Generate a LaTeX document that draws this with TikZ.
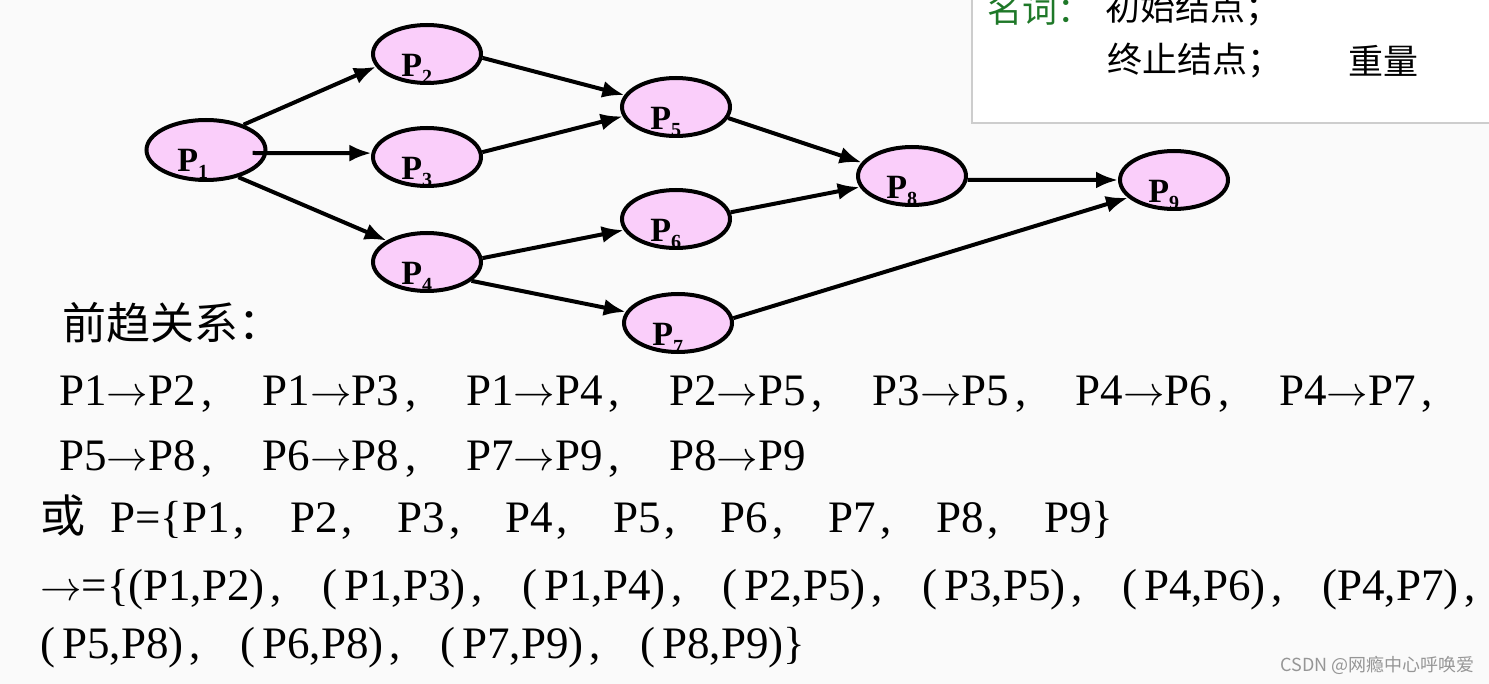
\documentclass[tikz,border=0pt]{standalone}
\usepackage{fontspec}
\setmainfont{Liberation Serif}
\newfontfamily\cjk{Noto Sans CJK SC}
\usetikzlibrary{arrows.meta,calc,shapes.geometric}
\definecolor{bg}{RGB}{250,250,250}
\definecolor{nodefill}{RGB}{250,206,250}
\definecolor{boxline}{RGB}{205,205,205}
\definecolor{termgreen}{RGB}{30,120,40}
\definecolor{wm}{RGB}{150,150,150}
\newcommand{\ar}{\ensuremath{\rightarrow}}
\begin{document}
\begin{tikzpicture}[x=0.5pt,y=-0.5pt,
  proc/.style={ellipse,draw=black,line width=2pt,fill=nodefill,minimum width=54pt,minimum height=29pt,inner sep=0pt},
  plabel/.style={font=\fontsize{17}{17}\selectfont\bfseries,inner sep=0pt,anchor=base west},
  edge/.style={line width=2pt,-{Latex[length=11pt,width=8.5pt]}},
  txt/.style={font=\fontsize{22.5}{22.5}\selectfont,inner sep=0pt,anchor=base west,text=black},
  cjktxt/.style={font=\cjk\fontsize{22}{22}\selectfont,inner sep=0pt,anchor=base west},
  boxtxt/.style={font=\cjk\fontsize{17.5}{17.5}\selectfont,inner sep=0pt,anchor=west},
  wmark/.style={font=\cjk\fontsize{9}{9}\selectfont,inner sep=0pt,anchor=east,text=wm}]
\fill[bg] (0,0) rectangle (1489,684);
\useasboundingbox (0,0) rectangle (1489,684);

% top-right box
\draw[boxline,line width=1pt,fill=white] (972,-10) rectangle (1500,123);
\node[boxtxt,text=termgreen] (mc) at (987,9) {名词：};
\node[boxtxt] (cs) at (1105,9) {初始结点；};
\node[boxtxt] (zz) at (1107,61) {终止结点；};
\node[boxtxt] (zl) at (1348,61) {重量};

% process nodes
\node[proc,minimum width=59.5pt,minimum height=30pt] (P1) at (206,150) {};
\node[proc] (P2) at (427,54) {};
\node[proc] (P3) at (427,157) {};
\node[proc] (P4) at (427,262) {};
\node[proc] (P5) at (676,107) {};
\node[proc] (P6) at (676,219) {};
\node[proc] (P7) at (678,323) {};
\node[proc] (P8) at (912,176) {};
\node[proc] (P9) at (1174,180) {};

\node[plabel] (L1) at ($(P1)+(-29,22)$) {P\raisebox{-3.5pt}{\fontsize{10}{10}\selectfont 1}};
\foreach \k in {2,...,9}
  \node[plabel,name=L\k] at ($(P\k)+(-26,23)$) {P\raisebox{-3.5pt}{\fontsize{10}{10}\selectfont \k}};

% edges
\draw[edge] (P1.34) -- (P2.194);
\draw[edge] ($(P1.east)+(-15,3)$) -- (P3.176);
\draw[edge] (P1.-40) -- (P4.152);
\draw[edge] (P2.-4) -- (P5.167);
\draw[edge] (P3.5) -- (P5.190);
\draw[edge] (P4.4) -- (P6.192);
\draw[edge] (P4.-23) -- (P7.168);
\draw[edge] (P5.-12) -- (P8.165);
\draw[edge] (P6.7) -- (P8.192);
\draw[edge] (P7.5) -- (P9.201);
\draw[edge] (P8.-4) -- (P9.180);

% text
\node[cjktxt] (qq) at (62,340) {前趋关系：};

\foreach \a/\b [count=\i from 0] in {1/2,1/3,1/4,2/5,3/5,4/6,4/7}
  \node[txt,name=ra\i] at (59+203.3*\i,405) {P\a\ar P\b\hspace{3pt},};
\foreach \a/\b [count=\i from 0] in {5/8,6/8,7/9}
  \node[txt,name=rb\i] at (59+203.3*\i,470) {P\a\ar P\b\hspace{3pt},};
\node[txt] (rb3) at (668.9,470) {P8\ar P9};

\node[cjktxt,font=\cjk\fontsize{22.5}{22.5}\selectfont] (huo) at (40,532) {或};
\node[txt] (pset) at (110,532) {P=\{};
\foreach \a [count=\i from 0] in {1,...,8}
  \node[txt,name=pc\i] at (182+107.7*\i,532) {P\a\hspace{2pt},};
\node[txt] (pc8) at (1043.6,532) {P9\}};

\node[txt] (arr) at (40,600) {\ar=\{};
\node[txt] (rc0) at (128,600) {(P1,P2)\hspace{3pt},};
\foreach \a/\b [count=\i from 1] in {1/3,1/4,2/5,3/5,4/6}
  \node[txt,name=rc\i] at (122+200*\i,600) {(\hspace{3.5pt}P\a,P\b)\hspace{3pt},};
\node[txt] (rc6) at (1322,600) {(P4,P7)\hspace{3pt},};

\foreach \a/\b [count=\i from 0] in {5/8,6/8,7/9}
  \node[txt,name=rd\i] at (40+200*\i,658) {(\hspace{3.5pt}P\a,P\b)\hspace{3pt},};
\node[txt] (rd3) at (640,658) {(\hspace{3.5pt}P8,P9)\}};

\node[wmark] (wmk) at (1475,665) {CSDN @网瘾中心呼唤爱};
\end{tikzpicture}
\end{document}
